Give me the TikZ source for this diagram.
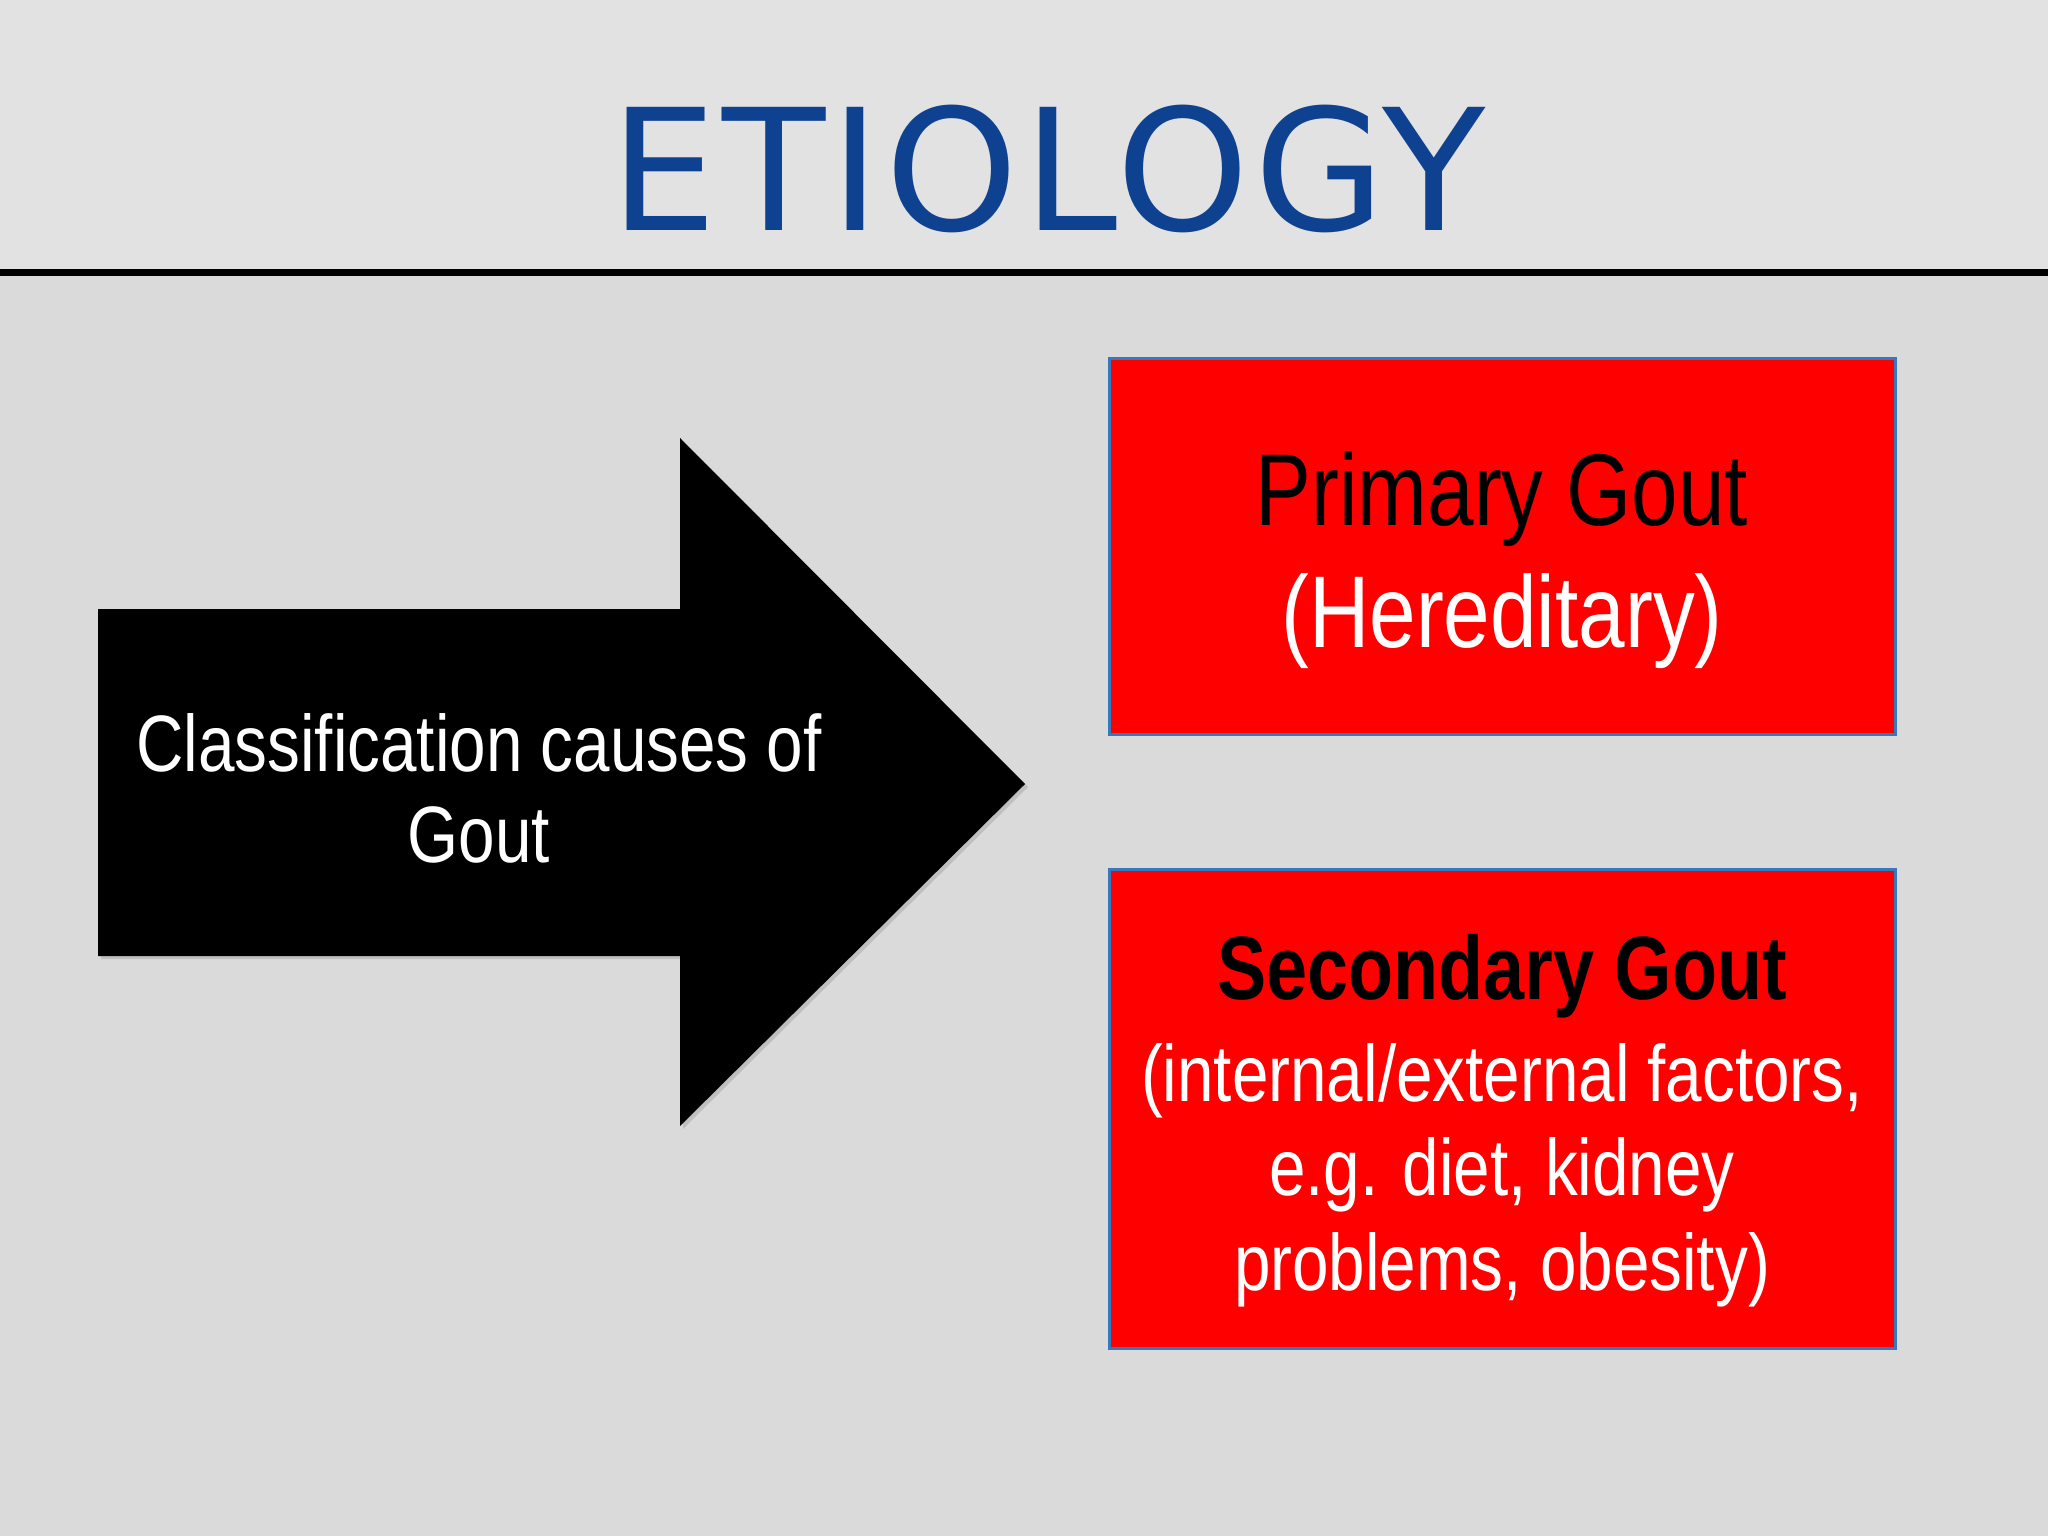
\documentclass[tikz,border=0pt]{standalone}
\usepackage{fontspec}
\setmainfont[FakeStretch=0.82]{Liberation Sans}
\newfontfamily\titelfont[LetterSpace=3]{DejaVu Sans}

\definecolor{hintergrund}{RGB}{218,218,218}
\definecolor{kopf}{RGB}{226,226,226}
\definecolor{titelblau}{RGB}{14,65,143}
\definecolor{rahmenblau}{RGB}{52,120,190}

\tikzset{
    kasten/.style={draw=rahmenblau, line width=3pt, fill=red, minimum width=786pt, inner sep=0pt},
    zeile/.style={anchor=base, inner sep=0pt, text=white, font=\fontsize{80}{95}\selectfont},
}

\begin{document}
\begin{tikzpicture}[x=1pt,y=-1pt]
    % Hintergrund
    \fill[hintergrund] (0,0) rectangle (2048,1536);
    \fill[kopf] (0,0) rectangle (2048,272);
    \useasboundingbox (0,0) rectangle (2048,1536);

    % Titel mit Linie
    \node[anchor=base, inner sep=0pt, text=titelblau, font=\titelfont\fontsize{169}{169}\selectfont] (titel) at (1048,230) {ETIOLOGY};
    \draw[line width=7pt] (0,272) -- (2048,272);

    % Pfeil
    \fill[black, opacity=0.12] (101,612) -- (683,612) -- (683,441) -- (1028,787) -- (683,1129) -- (683,959) -- (101,959) -- cycle;
    \fill[black] (98,609) -- (680,609) -- (680,438) -- (1025,784) -- (680,1126) -- (680,956) -- (98,956) -- cycle;
    \node[zeile] (klasse) at (479,771) {Classification causes of};
    \node[zeile] (gicht) at (479,862) {Gout};

    % Kaesten
    \node[kasten, minimum height=376pt] (primaer) at (1502,546) {};
    \node[kasten, minimum height=479pt] (sekundaer) at (1502,1108.5) {};

    % Texte in den Kaesten
    \node[zeile, text=black, font=\fontsize{102}{122}\selectfont] (primaertitel) at (1502,525) {Primary Gout};
    \node[zeile, font=\fontsize{102}{122}\selectfont] (erblich) at (1502,647) {(Hereditary)};
    \node[zeile, text=black, font=\fontsize{90}{102}\selectfont\bfseries] (sekundaertitel) at (1502,999) {Secondary Gout};
    \foreach \txt/\y [count=\i] in {{(internal/external factors,}/1101, {e.g. diet, kidney}/1195, {problems, obesity)}/1290} {
        \node[zeile] (grund-\i) at (1502,\y) {\txt};
    }
\end{tikzpicture}
\end{document}
